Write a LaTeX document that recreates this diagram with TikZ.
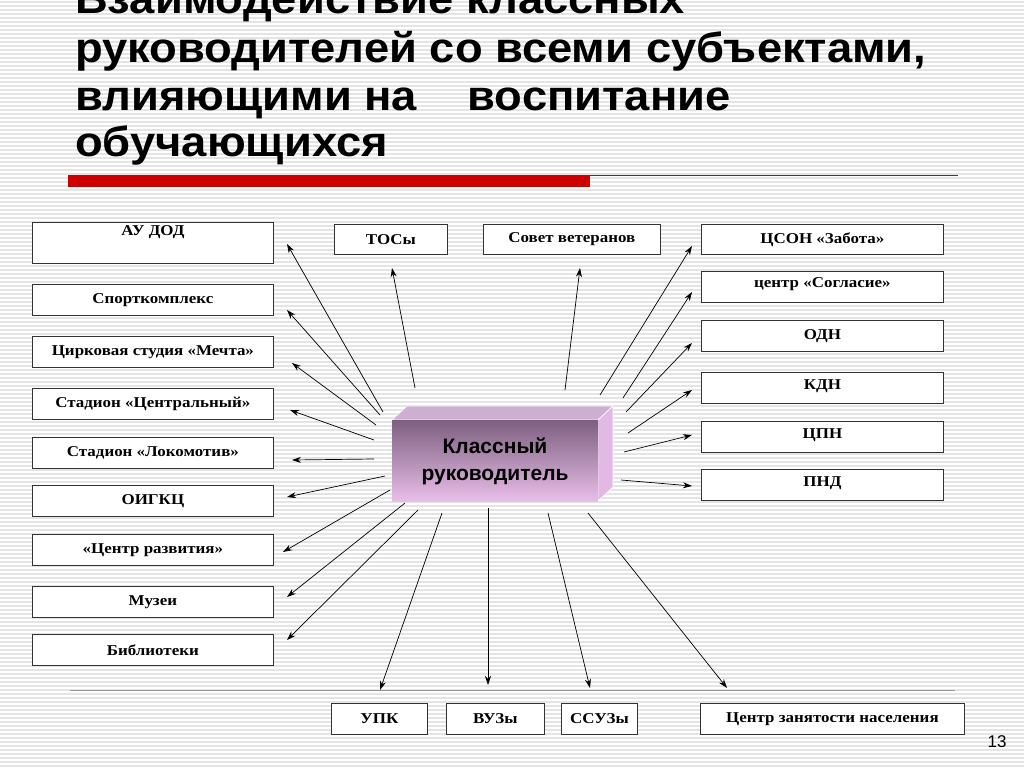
\documentclass[tikz,border=0pt]{standalone}
\usepackage{fontspec}
\setmainfont{Liberation Serif}[FakeStretch=1.13]
\newfontfamily\titlefont{Liberation Sans}
\newfontfamily\ttlfont{Liberation Sans}[FakeStretch=1.08]
\usetikzlibrary{arrows.meta}
\definecolor{stripe}{RGB}{228,228,228}
\definecolor{tred}{RGB}{204,0,0}
\definecolor{pdark}{RGB}{125,95,128}
\definecolor{plight}{RGB}{232,190,232}
\definecolor{ptop}{RGB}{205,175,210}
\definecolor{pside}{RGB}{225,185,228}
\tikzset{
  box/.style={draw=black!80,line width=0.8pt,fill=white,inner sep=0pt,font=\bfseries\fontsize{15}{17}\selectfont},
  arr/.style={-{Stealth[length=9pt,width=6pt]},line width=0.7pt},
  ttl/.style={anchor=base west,inner sep=0pt,font=\ttlfont\bfseries\fontsize{42}{46}\selectfont}
}
\begin{document}
\begin{tikzpicture}[x=1pt,y=-1pt]
\useasboundingbox (0,0) rectangle (1024,768);
\fill[white] (0,0) rectangle (1024,768);
\foreach \y in {2,6,...,766} \draw[stripe,line width=1.2pt] (0,\y) -- (1024,\y);
% title
\begin{scope}
\clip (0,0) rectangle (1024,768);
\node[ttl] (t1) at (75,14) {Взаимодействие классных};
\end{scope}
\node[ttl] (t2) at (75,63) {руководителей со всеми субъектами,};
\node[ttl] (t3) at (75,110) {влияющими на\hspace{1.2em}воспитание};
\node[ttl] (t4) at (75,156) {обучающихся};
\fill[tred] (68,175) rectangle (590,187);
\draw[tred,line width=1pt] (590,175.5) -- (958,175.5);
\draw[black!40,line width=1pt] (70,690) -- (955,690);
\node[font=\titlefont\fontsize{17}{20}\selectfont] (pg) at (997,742) {13};
% left boxes
\node[box,minimum width=241,minimum height=41,anchor=north west,text depth=24pt] (auds) at (32,222) {АУ ДОД};
\node[box,minimum width=241,minimum height=31,anchor=north west] (sport) at (32,284) {Спорткомплекс};
\node[box,minimum width=241,minimum height=31,anchor=north west] (circ) at (32,336) {Цирковая студия «Мечта»};
\node[box,minimum width=241,minimum height=31,anchor=north west] (stc) at (32,388) {Стадион «Центральный»};
\node[box,minimum width=241,minimum height=31,anchor=north west] (stl) at (32,437) {Стадион «Локомотив»};
\node[box,minimum width=241,minimum height=31,anchor=north west] (oig) at (32,485) {ОИГКЦ};
\node[box,minimum width=241,minimum height=31,anchor=north west] (crz) at (32,534) {«Центр развития»};
\node[box,minimum width=241,minimum height=31,anchor=north west] (muz) at (32,586) {Музеи};
\node[box,minimum width=241,minimum height=31,anchor=north west] (bib) at (32,634) {Библиотеки};
% top
\node[box,minimum width=113,minimum height=30,anchor=north west] (tos) at (334,224) {ТОСы};
\node[box,minimum width=177,minimum height=30,anchor=north west] (sov) at (483,224) {Совет ветеранов};
% right
\node[box,minimum width=242,minimum height=30,anchor=north west] (cson) at (701,224) {ЦСОН «Забота»};
\node[box,minimum width=242,minimum height=31,anchor=north west,text depth=8pt] (sogl) at (701,271) {центр «Согласие»};
\node[box,minimum width=242,minimum height=31,anchor=north west] (odn) at (701,320) {ОДН};
\node[box,minimum width=242,minimum height=31,anchor=north west,text depth=6pt] (kdn) at (701,372) {КДН};
\node[box,minimum width=242,minimum height=31,anchor=north west,text depth=6pt] (cpn) at (701,421) {ЦПН};
\node[box,minimum width=242,minimum height=31,anchor=north west,text depth=6pt] (pnd) at (701,469) {ПНД};
% bottom
\node[box,minimum width=96,minimum height=31,anchor=north west] (upk) at (331,703) {УПК};
\node[box,minimum width=98,minimum height=31,anchor=north west] (vuz) at (446,703) {ВУЗы};
\node[box,minimum width=76,minimum height=31,anchor=north west] (ssuz) at (561,703) {ССУЗы};
\node[box,minimum width=264,minimum height=31,anchor=north west] (czn) at (700,703) {Центр занятости населения};
% centre box
\fill[ptop,draw=white,line width=0.6pt] (392,420) -- (407,406) -- (613,406) -- (598,420) -- cycle;
\fill[pside,draw=white,line width=0.6pt] (598,420) -- (613,406) -- (613,487) -- (598,501) -- cycle;
\shade[top color=pdark,bottom color=plight] (392,420) rectangle (598,501);
\node[align=center,font=\titlefont\bfseries\fontsize{21}{27}\selectfont] (kr) at (495,461) {Классный\\руководитель};
% arrows
\foreach \n/\sx/\sy/\ex/\ey in {a/383/412/287/244, b/380/415/287/310, c/376/425/292/363, d/374/440/290/410, e/374/459/292/460, f/385/476/287/497, g/390/490/283/552, h/405/503/287/597, i/418/510/287/640, j/415/388/392/268, k/565/390/580/268, l/600/395/692/246, m/623/398/692/292, n/626/412/692/343, o/628/433/692/390, p/624/452/692/435, q/621/480/692/486, r/442/513/380/690, s/488/508/488/685, t/548/513/590/688, u/588/513/727/688}
{ \coordinate (s\n) at (\sx,\sy); \coordinate (e\n) at (\ex,\ey); \draw[arr] (s\n) -- (e\n); }
\end{tikzpicture}
\end{document}
